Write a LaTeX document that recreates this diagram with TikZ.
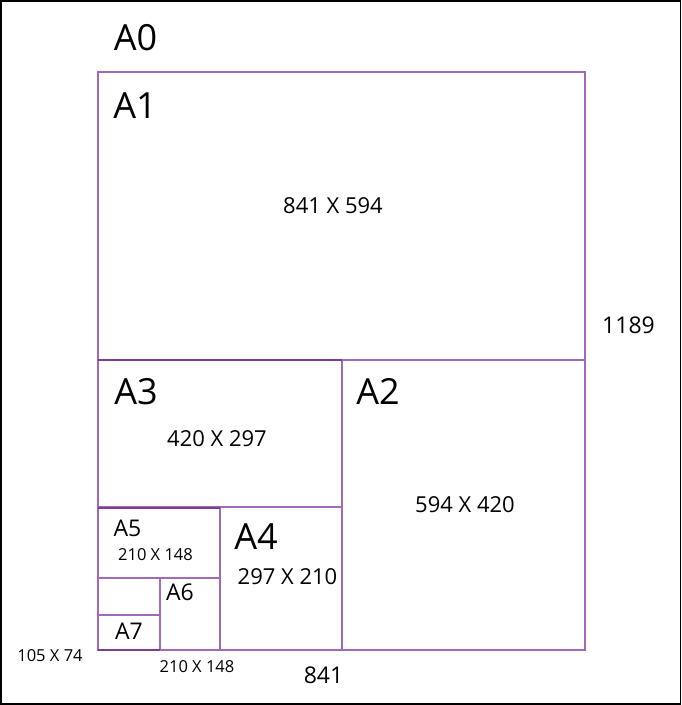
\documentclass[tikz,border=0pt]{standalone}
\usepackage{fontspec}
\setmainfont{Open Sans}
\definecolor{linepurple}{RGB}{160,105,185}
\definecolor{darkpurple}{RGB}{125,60,150}
\tikzset{
  sheet/.style={draw=linepurple, line width=1.2pt},
  sheetdark/.style={draw=darkpurple, line width=2pt},
  big/.style={inner sep=0pt, font=\fontsize{36}{40}\selectfont},
  mid/.style={inner sep=0pt, font=\fontsize{23}{26}\selectfont},
  dim/.style={inner sep=0pt, font=\fontsize{22}{25}\selectfont},
  small/.style={inner sep=0pt, font=\fontsize{16.5}{19}\selectfont},
}
\begin{document}
\begin{tikzpicture}[x=1pt,y=-1pt]
\useasboundingbox (0,0) rectangle (682,705);
\draw[black, line width=1.5pt] (0.75,0.75) rectangle (680.25,703.75);
% sheets
\draw[sheet] (98,72) rectangle (585,650);
\draw[sheet] (98,360) -- (585,360);
\draw[sheet] (342,360) -- (342,650);
\draw[sheet] (98,507) -- (342,507);
\draw[sheet] (220,507) -- (220,650);
\draw[sheet] (98,578) -- (220,578);
\draw[sheet] (160,578) -- (160,650);
\draw[sheet] (98,615) -- (160,615);
\draw[sheetdark] (98,360) -- (342,360);
\draw[sheetdark] (98,508) -- (220,508);
\draw[sheetdark] (98,650) -- (160,650);
% labels
\node[big] (a0) at (135.5,38) {A0};
\node[big] (a1) at (135,106) {A1};
\node[big] (a3) at (136,392) {A3};
\node[big] (a2) at (378,391) {A2};
\node[big] (a4) at (256,537) {A4};
\node[mid] (a5) at (127.5,528.5) {A5};
\node[mid] (a6) at (180,592) {A6};
\node[mid] (a7) at (129,631) {A7};
\node[dim] (d1) at (333,206) {841 X 594};
\node[dim] (d3) at (217,438.5) {420 X 297};
\node[dim] (d2) at (465,505) {594 X 420};
\node[dim] (d4) at (287.5,577) {297 X 210};
\node[small] (d5) at (155.5,555) {210 X 148};
\node[small] (d7) at (50,656) {105 X 74};
\node[small] (d6) at (197,667) {210 X 148};
\node[mid] (w) at (323.5,675) {841};
\node[mid] (h) at (628.5,325.5) {1189};
\end{tikzpicture}
\end{document}
